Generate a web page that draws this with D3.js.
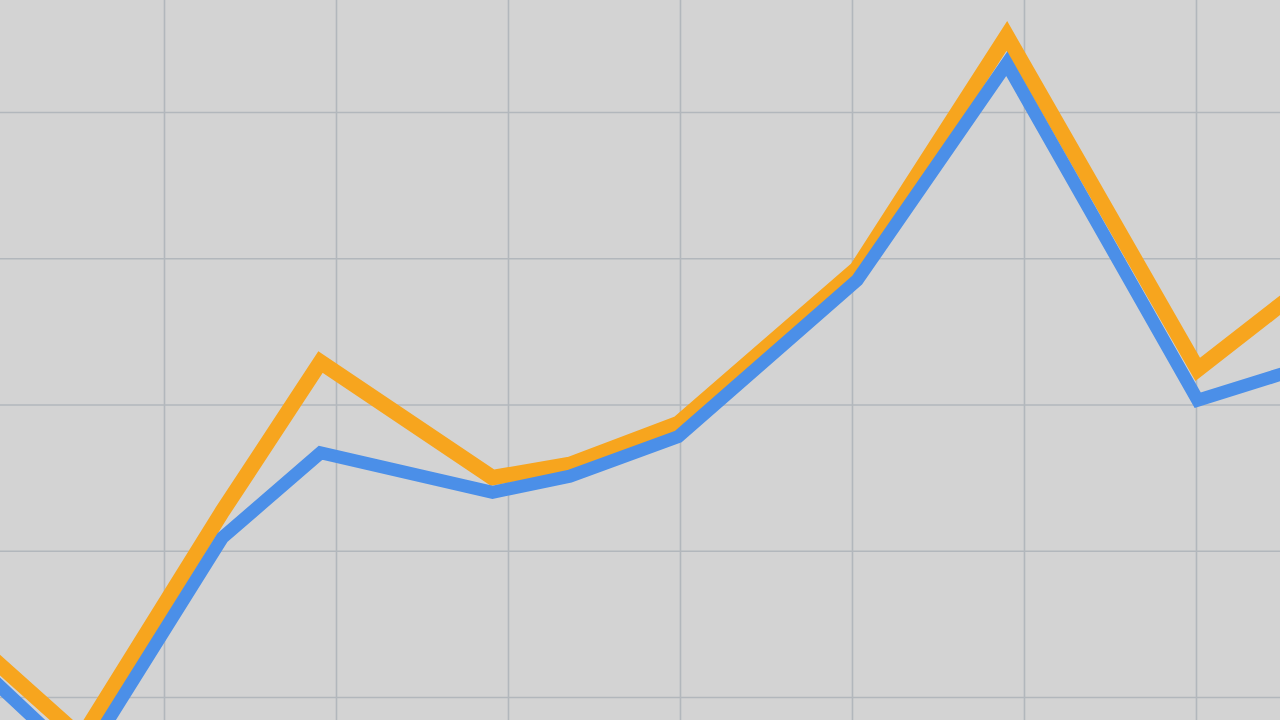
<!DOCTYPE html>
<html>
<head>
<meta charset="utf-8">
<script src="https://cdn.jsdelivr.net/npm/d3@7"></script>
<style>
  html, body { margin: 0; padding: 0; background: #d3d3d3; overflow: hidden; }
</style>
</head>
<body>
<script>
// x positions of the samples (grid units, one vertical grid line per unit)
const xValues = [-1.07, -0.48, 0.34, 0.91, 1.91, 2.36, 2.99, 4.03, 4.90, 6.01, 6.61]
// orange series
const orangeValues = [3.4, -2.8, 12.7, 22.9, 15.0, 15.9, 18.7, 29.3, 45.2, 22.4, 27.9]
// blue series
const blueValues = [2.0, -4.5, 10.9, 16.7, 14.0, 15.1, 17.8, 28.5, 43.3, 20.3, 22.5]
// grid
const xTicks = [0, 1, 2, 3, 4, 5, 6]
const yTicks = [0, 10, 20, 30, 40]

const m = {
    width: 1280,
    height: 720
}

const svg = d3.select("body").append('svg')
    .attr('width', m.width)
    .attr('height', m.height)
    .style('display', 'block')

svg.append('rect')
    .attr('width', m.width)
    .attr('height', m.height)
    .attr('fill', '#d3d3d3')

const xScale = d3.scaleLinear()
    .domain([-0.9535, 6.4884])
    .range([0, m.width])

const yScale = d3.scaleLinear()
    .domain([-1.573, 47.66])
    .range([m.height, 0])

// grid lines drawn with axes, labels removed
const xGrid = svg.append('g')
    .attr('transform', 'translate(0,' + m.height + ')')
    .call(d3.axisBottom(xScale).tickValues(xTicks).tickSize(-m.height).tickFormat(''))
xGrid.select('.domain').remove()
xGrid.selectAll('line').attr('stroke', '#b2b7bc').attr('stroke-width', 1.6)

const yGrid = svg.append('g')
    .call(d3.axisLeft(yScale).tickValues(yTicks).tickSize(-m.width).tickFormat(''))
yGrid.select('.domain').remove()
yGrid.selectAll('line').attr('stroke', '#b2b7bc').attr('stroke-width', 1.6)

const series = [
    { name: 'orange', values: orangeValues, color: '#f7a51e', width: 15.5 },
    { name: 'blue', values: blueValues, color: '#4b8fe8', width: 13 }
]

const line = d3.line()
    .x(function (d) { return xScale(d[0]) })
    .y(function (d) { return yScale(d[1]) })

svg.selectAll('.series')
    .data(series)
    .enter()
    .append('path')
    .attr('class', 'series')
    .attr('d', function (s) {
        return line(xValues.map(function (x, i) { return [x, s.values[i]] }))
    })
    .attr('fill', 'none')
    .attr('stroke', function (s) { return s.color })
    .attr('stroke-width', function (s) { return s.width })
    .attr('stroke-linejoin', 'miter')
    .attr('stroke-miterlimit', 6)
</script>
</body>
</html>
